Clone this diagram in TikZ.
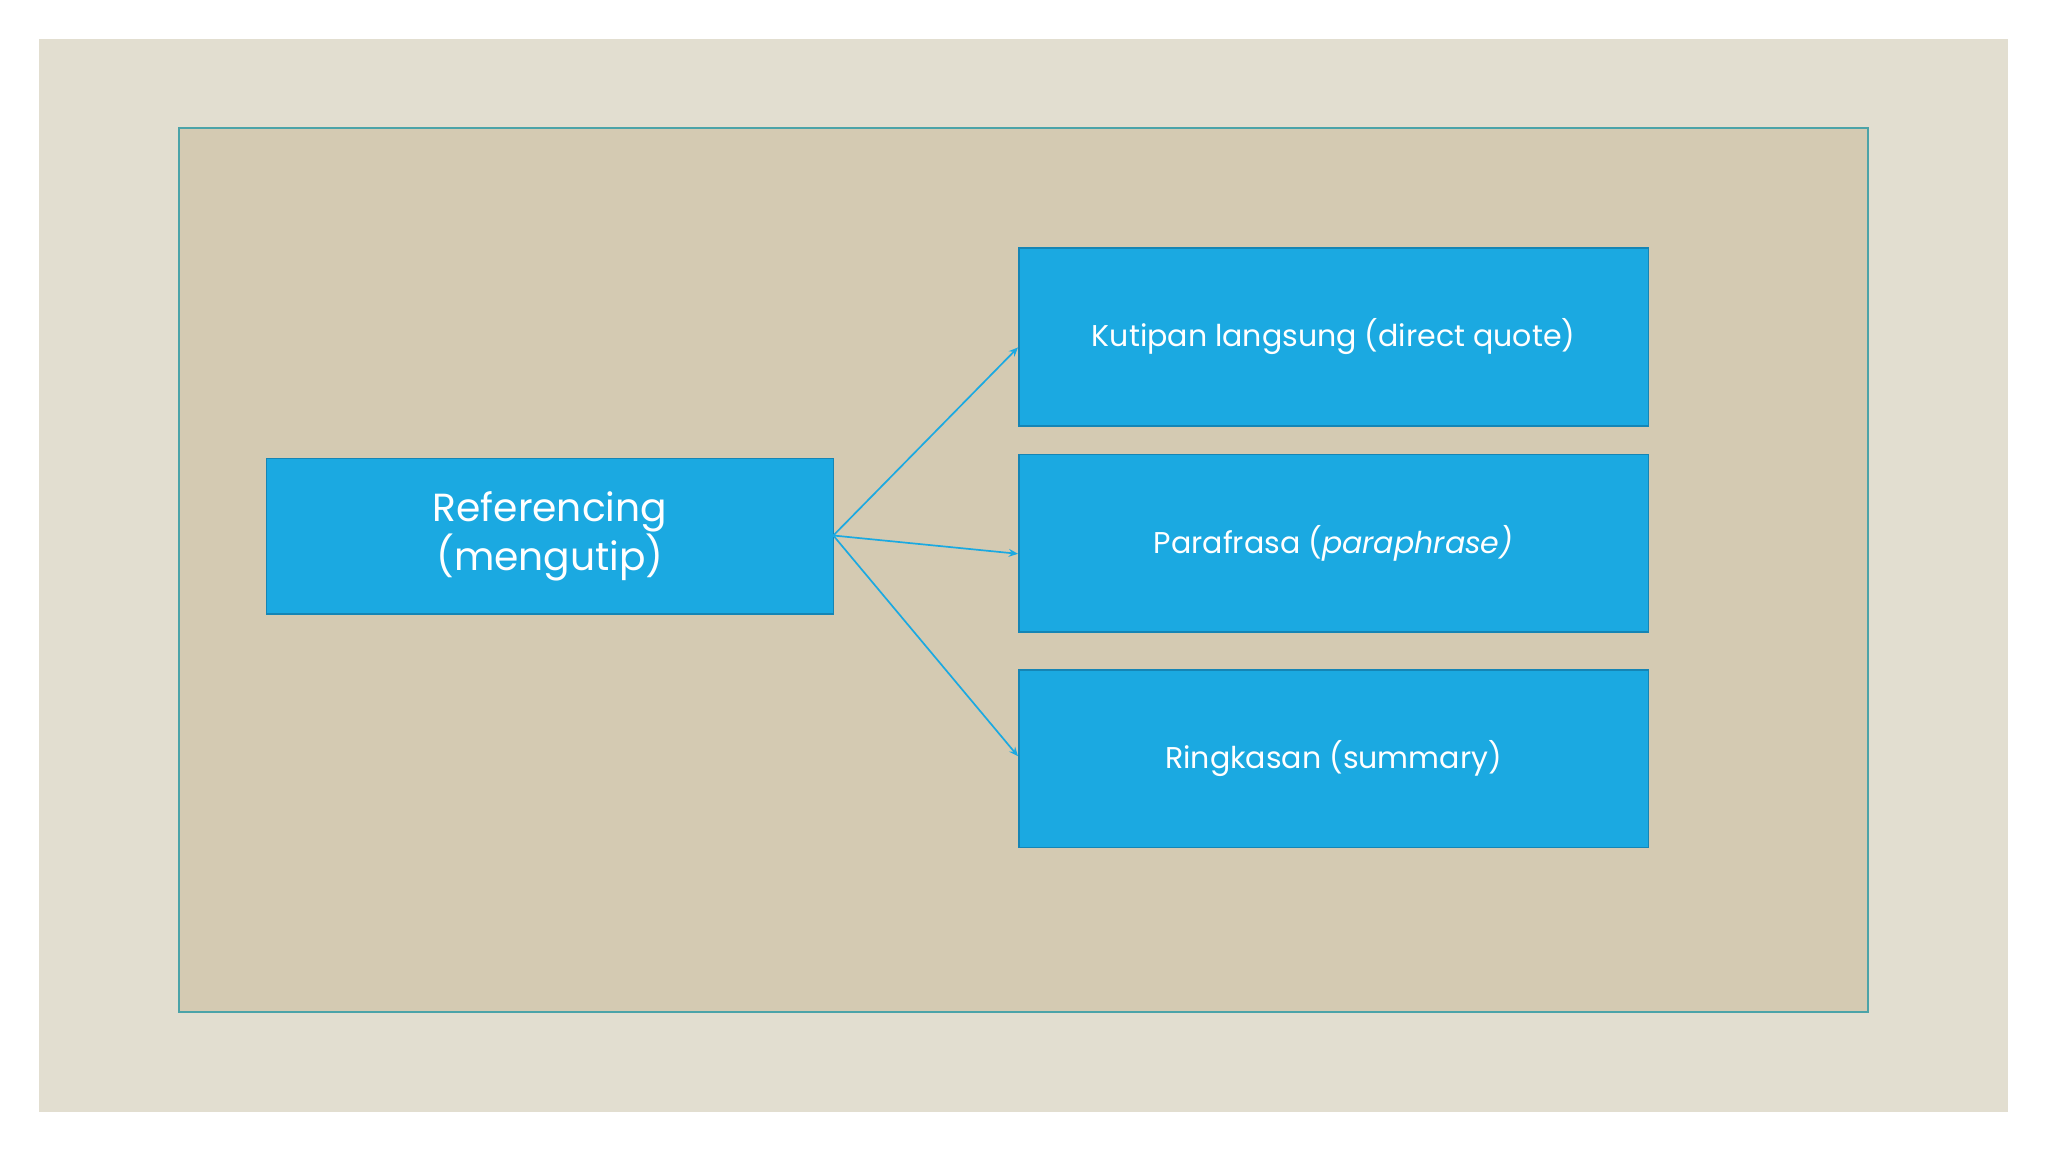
\documentclass[tikz,border=0pt]{standalone}
\usepackage{fontspec}
\setmainfont{Poppins}
\usetikzlibrary{arrows.meta}
\definecolor{outerbg}{HTML}{E2DED0}
\definecolor{innerbg}{HTML}{D4CAB2}
\definecolor{teal}{HTML}{4BA3A8}
\definecolor{boxblue}{HTML}{1BA9E1}
\definecolor{boxedge}{HTML}{1585B5}
\begin{document}
\begin{tikzpicture}[x=1pt,y=-1pt,
  bluebox/.style={draw=boxedge,line width=1.2pt,fill=boxblue,text=white,align=center,inner sep=0pt},
  conn/.style={draw=boxblue,line width=1.3pt,-{Stealth[length=7pt,width=6pt]}}]
\useasboundingbox (0,0) rectangle (1568,882);
\fill[white] (0,0) rectangle (1568,882);
\fill[outerbg] (30,30) rectangle (1537,851);
\draw[teal,fill=innerbg,line width=1.2pt] (137,98) rectangle (1430,775);
\node[bluebox,minimum width=434pt,minimum height=119pt,font=\fontsize{30}{38}\selectfont] (ref) at (421,410.5) {Referencing\\(mengutip)};
\node[bluebox,minimum width=482pt,minimum height=136pt,font=\fontsize{23}{28}\selectfont] (k) at (1021,258) {Kutipan langsung (direct quote)};
\node[bluebox,minimum width=482pt,minimum height=136pt,font=\fontsize{23}{28}\selectfont] (p) at (1021,416) {Parafrasa (\textit{paraphrase)}};
\node[bluebox,minimum width=482pt,minimum height=136pt,font=\fontsize{23}{28}\selectfont] (r) at (1021,581) {Ringkasan (summary)};
\coordinate (s) at (638,410);
\draw[conn] (s) -- ([yshift=-8pt]k.west);
\draw[conn] (s) -- ([yshift=-8pt]p.west);
\draw[conn] (s) -- ([yshift=2pt]r.west);
\end{tikzpicture}
\end{document}
